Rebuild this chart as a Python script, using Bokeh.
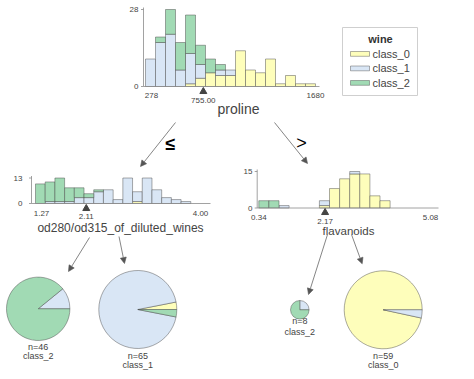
import numpy as np
from bokeh.plotting import figure
from bokeh.models import Range1d, Arrow, NormalHead
from bokeh.core.properties import value
from bokeh.embed import file_html
from bokeh.resources import INLINE

# ---------------- data ----------------
class_names = ["class_0", "class_1", "class_2"]
class_colors = ["#FEFEBB", "#D9E6F5", "#A1DAB4"]
legend_title = "wine"

# root node: proline (17 bins)
proline_name = "proline"
proline_range = [278, 1680]
proline_split = 755.00
proline_split_label = "755.00"
proline_class_0 = [0, 0, 0, 0, 1, 3, 5, 4, 4, 13, 6, 5, 10, 1, 4, 1, 1]
proline_class_1 = [10, 16, 19, 6, 11, 5, 0, 2, 2, 0, 0, 0, 0, 0, 0, 0, 0]
proline_class_2 = [0, 2, 9, 10, 14, 7, 5, 2, 0, 0, 0, 0, 0, 0, 0, 0, 0]

# left node: od280/od315_of_diluted_wines
od280_name = "od280/od315_of_diluted_wines"
od280_range = [1.27, 4.00]
od280_split = 2.11
od280_split_label = "2.11"
od280_class_0 = [0, 0, 0, 0, 0, 0, 0, 0, 0, 0, 1, 0, 0, 0, 0, 0, 0]
od280_class_1 = [0, 1, 1, 1, 3, 3, 6, 7, 2, 13, 5, 13, 7, 3, 2, 1, 0]
od280_class_2 = [10, 10, 12, 7, 5, 2, 1, 0, 0, 0, 0, 0, 0, 0, 0, 0, 0]

# right node: flavanoids
flav_name = "flavanoids"
flav_range = [0.34, 5.08]
flav_split = 2.17
flav_split_label = "2.17"
flav_class_0 = [0, 0, 0, 0, 0, 0, 1, 8, 12, 14, 14, 5, 3, 0, 0, 0, 0]
flav_class_1 = [0, 0, 1, 0, 0, 0, 2, 0, 0, 1, 0, 0, 0, 0, 0, 0, 0]
flav_class_2 = [3, 3, 0, 0, 0, 0, 0, 0, 0, 0, 0, 0, 0, 0, 0, 0, 0]

# leaves (class counts)
leaf_a = [0, 5, 41]
leaf_b = [2, 61, 2]
leaf_c = [0, 2, 6]
leaf_d = [57, 2, 0]

# ---------------- figure ----------------
W, H = 474, 379
p = figure(width=W, height=H, x_range=Range1d(0, W), y_range=Range1d(0, H),
           x_axis_type=None, y_axis_type=None, toolbar_location=None,
           output_backend="svg", min_border=0)
p.grid.visible = False
p.outline_line_color = None
p.background_fill_color = "white"


def Y(y):
    # pixel row (from top) -> figure y coordinate
    return H - y


FONT = value("Liberation Sans")
TXT = "#444443"
EDGE = "#444443"


def txt(x, y, s, size, align="center", color=TXT, style="normal", baseline="middle"):
    p.text(x=[x], y=[Y(y)], text=[s], text_font=FONT, text_font_size=value(f"{size}px"),
           text_align=align, text_baseline=baseline, text_color=color,
           text_font_style=style)


def draw_hist(name, rng, split, split_label, counts, x0, x1, ybase, ytop,
              spine_x, spine_end, ylab_x, xlab_y, split_lab_y, tri_y,
              name_xy, name_size, min_dx=0):
    lo, hi = rng
    counts = np.array(counts, dtype=float)
    nb = counts.shape[1]
    edges = np.linspace(lo, hi, nb + 1)
    ymax = counts.sum(axis=0).max()

    def sx(v):
        return x0 + (v - lo) / (hi - lo) * (x1 - x0)

    def sy(c):
        return ybase - c / ymax * (ybase - ytop)

    bottom = np.zeros(nb)
    for k in range(counts.shape[0]):
        L, R, T, B = [], [], [], []
        for i in range(nb):
            c = counts[k, i]
            if c > 0:
                L.append(sx(edges[i]))
                R.append(sx(edges[i + 1]))
                B.append(Y(sy(bottom[i])))
                T.append(Y(sy(bottom[i] + c)))
        bottom += counts[k]
        if L:
            p.quad(left=L, right=R, top=T, bottom=B, fill_color=class_colors[k],
                   line_color=EDGE, line_width=0.6, line_alpha=0.75)
    # axes spines
    p.segment(x0=[spine_x, spine_x], y0=[Y(ybase), Y(ybase)],
              x1=[spine_x, spine_end], y1=[Y(ytop - 2), Y(ybase)],
              line_color="#8a8a8a", line_width=0.8)
    # y ticks
    p.segment(x0=[spine_x - 2.5, spine_x - 2.5], y0=[Y(ybase), Y(ytop)],
              x1=[spine_x, spine_x], y1=[Y(ybase), Y(ytop)],
              line_color="#8a8a8a", line_width=0.8)
    txt(ylab_x, ytop, f"{int(ymax)}", 8, align="right")
    txt(ylab_x, ybase, "0", 8, align="right")
    # x tick labels
    txt(sx(lo) + min_dx, xlab_y, f"{lo:g}" if isinstance(lo, int) else f"{lo:.2f}", 8)
    txt(sx(hi), xlab_y, f"{hi:g}" if isinstance(hi, int) else f"{hi:.2f}", 8)
    # split marker
    p.scatter(x=[sx(split)], y=[Y(tri_y)], marker="triangle", size=7,
              fill_color="#444443", line_color="#444443")
    txt(sx(split), split_lab_y, split_label, 8)
    txt(name_xy[0], name_xy[1], name, name_size)


draw_hist(proline_name, proline_range, proline_split, proline_split_label,
          [proline_class_0, proline_class_1, proline_class_2],
          x0=145, x1=315, ybase=86, ytop=9, spine_x=143, spine_end=319,
          ylab_x=138, xlab_y=95, split_lab_y=99.5, tri_y=91,
          name_xy=(238, 108.5), name_size=14, min_dx=6)

draw_hist(od280_name, od280_range, od280_split, od280_split_label,
          [od280_class_0, od280_class_1, od280_class_2],
          x0=35, x1=200, ybase=203, ytop=177.5, spine_x=31, spine_end=210,
          ylab_x=22, xlab_y=213, split_lab_y=215.5, tri_y=208,
          name_xy=(120, 227), name_size=12, min_dx=6)

draw_hist(flav_name, flav_range, flav_split, flav_split_label,
          [flav_class_0, flav_class_1, flav_class_2],
          x0=258.3, x1=430, ybase=207.5, ytop=171, spine_x=256.7, spine_end=438,
          ylab_x=252, xlab_y=217, split_lab_y=221, tri_y=212,
          name_xy=(348, 230), name_size=11.5, min_dx=0)

# ---------------- legend ----------------
p.quad(left=[342], right=[417], top=[Y(27)], bottom=[Y(95)], fill_color="white",
       line_color="#cfcfcf", line_width=1)
txt(380, 38.5, legend_title, 11, style="bold", color="#333333")
for k, (nm, col) in enumerate(zip(class_names, class_colors)):
    yy = 53.4 + k * 14.5
    p.quad(left=[350], right=[369], top=[Y(yy - 2.4)], bottom=[Y(yy + 2.4)],
           fill_color=col, line_color=EDGE, line_width=0.6, line_alpha=0.7)
    txt(372, yy, nm, 11, align="left")

# ---------------- arrows ----------------
arrows = [((175, 122), (140, 166)), ((274, 122), (307, 163)),
          ((89, 237), (68, 271)), ((118.5, 236), (124, 263)),
          ((327, 234), (308, 294)), ((351, 234), (361.7, 263.3))]
for (xa, ya), (xb, yb) in arrows:
    p.add_layout(Arrow(end=NormalHead(size=6, fill_color="#555555", line_color="#555555",
                                      line_width=0.6),
                       x_start=xa, y_start=Y(ya), x_end=xb, y_end=Y(yb),
                       line_color="#777777", line_width=0.9))
txt(170, 143, "≤", 18, color="black", style="bold")
txt(301, 142, ">", 18, color="black")

# ---------------- leaves (pies) ----------------
leaves = [(leaf_a, (37.7, 308.3), 31.7, 346, 355.7),
          (leaf_b, (137.3, 309), 39, 355, 364.5),
          (leaf_c, (299.3, 309.3), 9.3, 320, 331),
          (leaf_d, (382.7, 309.3), 39, 355, 364.5)]
for counts, (cx, cy), r, ny, cly in leaves:
    tot = sum(counts)
    ang = 0.0
    for k, c in enumerate(counts):
        if c <= 0:
            continue
        a2 = ang + 2 * np.pi * c / tot
        p.wedge(x=[cx], y=[Y(cy)], radius=r, start_angle=ang, end_angle=a2,
                fill_color=class_colors[k], line_color=EDGE, line_width=0.6,
                line_alpha=0.75)
        ang = a2
    txt(cx, ny, f"n={tot}", 9)
    txt(cx, cly, class_names[int(np.argmax(counts))], 9)

open("out.html", "w").write(file_html(p, INLINE))
